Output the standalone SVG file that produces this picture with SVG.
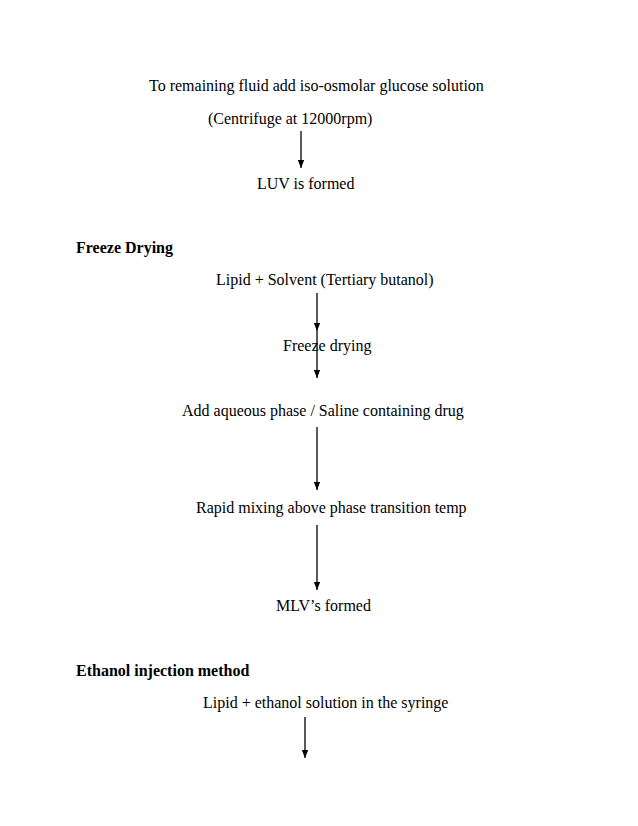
<svg xmlns="http://www.w3.org/2000/svg" width="638" height="826" viewBox="0 0 638 826">
<defs><marker id="ah" markerWidth="8" markerHeight="10" refX="4" refY="9" orient="auto" markerUnits="userSpaceOnUse"><path d="M0,0 L8,0 L4,9 Z" fill="#000" transform="rotate(-90 4 4.5) translate(0 0)"/></marker>
<marker id="a" viewBox="0 0 10 10" refX="10" refY="5" markerWidth="8" markerHeight="8" orient="auto" markerUnits="userSpaceOnUse"><path d="M0,1 L10,5 L0,9 Z" fill="#000"/></marker></defs>
<style>text{font-family:"Liberation Serif",serif;font-size:16px;fill:#000}.b{font-weight:bold}line{stroke:#000;stroke-width:1.3;marker-end:url(#a)}</style>
<rect width="638" height="826" fill="#fff"/>
<g id="t1"><text x="149" y="91">To remaining fluid add iso-osmolar glucose solution</text></g>
<g id="t2"><text x="208" y="124">(Centrifuge at 12000rpm)</text></g>
<g id="t3"><text x="257" y="189">LUV is formed</text></g>
<g id="h1"><text class="b" x="76" y="253">Freeze Drying</text></g>
<g id="t4"><text x="216" y="285">Lipid + Solvent (Tertiary butanol)</text></g>
<g id="t5"><text x="283" y="351">Freeze drying</text></g>
<g id="t6"><text x="182" y="416">Add aqueous phase / Saline containing drug</text></g>
<g id="t7"><text x="196" y="513">Rapid mixing above phase transition temp</text></g>
<g id="t8"><text x="276" y="611">MLV’s formed</text></g>
<g id="h2"><text class="b" x="76" y="676">Ethanol injection method</text></g>
<g id="t9"><text x="203" y="708">Lipid + ethanol solution in the syringe</text></g>
<g id="connectors">
<line x1="301" y1="131" x2="301" y2="168"/>
<line x1="317" y1="293" x2="317" y2="331"/>
<line x1="317" y1="331" x2="317" y2="378"/>
<line x1="317" y1="427" x2="317" y2="490"/>
<line x1="317" y1="525" x2="317" y2="590"/>
<line x1="305" y1="717" x2="305" y2="758"/>
</g>
</svg>
